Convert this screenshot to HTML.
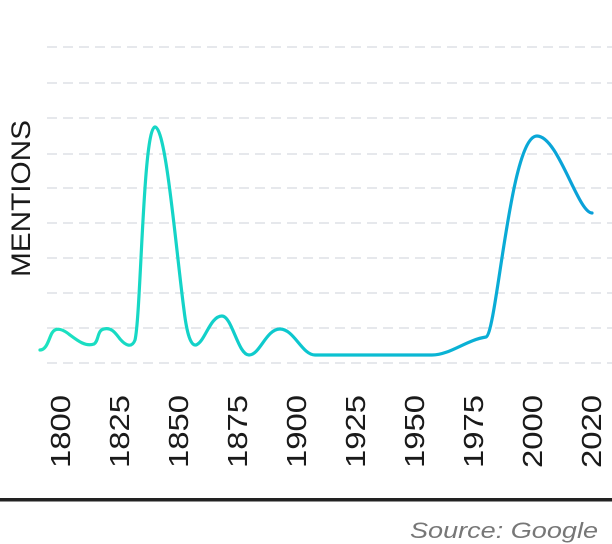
<!DOCTYPE html>
<html><head><meta charset="utf-8"><style>
html,body{margin:0;padding:0;background:#fff;}
svg{display:block;font-family:"Liberation Sans",sans-serif;}
</style></head><body>
<svg width="612" height="544" viewBox="0 0 612 544" xmlns="http://www.w3.org/2000/svg">
<defs>
<linearGradient id="g" x1="40" y1="0" x2="595" y2="0" gradientUnits="userSpaceOnUse">
<stop offset="0" stop-color="#1de3bf"/>
<stop offset="0.5" stop-color="#0bc4d0"/>
<stop offset="1" stop-color="#0a9fd9"/>
</linearGradient>
</defs>
<g stroke="#e6e8ec" stroke-width="2" stroke-dasharray="10 6">
<line x1="47" y1="47" x2="612" y2="47"/>
<line x1="47" y1="83" x2="612" y2="83"/>
<line x1="47" y1="118" x2="612" y2="118"/>
<line x1="47" y1="154" x2="612" y2="154"/>
<line x1="47" y1="188" x2="612" y2="188"/>
<line x1="47" y1="223" x2="612" y2="223"/>
<line x1="47" y1="258" x2="612" y2="258"/>
<line x1="47" y1="293" x2="612" y2="293"/>
<line x1="47" y1="328" x2="612" y2="328"/>
<line x1="47" y1="363" x2="612" y2="363"/>
</g>
<path d="M40,350 C47,350 49,338 52,333 C56,326 64,330 70,335 C78,341 86,347 94,344 C99,341 97,330 104,329 C112,327 116,334 120,339 C126,346 132,348 135,340 C141,315 143,127 155,127 C166,127 176,250 184,310 C187,335 191,346 196,345 C205,342 210,316 222,316 C232,316 238,355 249,355 C260,355 266,329 280,329 C294,329 302,355 315,355 L432,355 C450,355 466,340 486,337 C497,333 510,136 537,136 C558,136 578,213 592,213" fill="none" stroke="url(#g)" stroke-width="3.2" stroke-linecap="round" stroke-linejoin="round"/>
<text transform="translate(30,277) rotate(-90)" font-size="27" fill="#1a1a1a" textLength="157" lengthAdjust="spacingAndGlyphs">MENTIONS</text>
<g font-size="28" fill="#1a1a1a">
<text transform="translate(70,468) rotate(-90)" textLength="73" lengthAdjust="spacingAndGlyphs">1800</text>
<text transform="translate(129,468) rotate(-90)" textLength="73" lengthAdjust="spacingAndGlyphs">1825</text>
<text transform="translate(188,468) rotate(-90)" textLength="73" lengthAdjust="spacingAndGlyphs">1850</text>
<text transform="translate(247,468) rotate(-90)" textLength="73" lengthAdjust="spacingAndGlyphs">1875</text>
<text transform="translate(306,468) rotate(-90)" textLength="73" lengthAdjust="spacingAndGlyphs">1900</text>
<text transform="translate(365,468) rotate(-90)" textLength="73" lengthAdjust="spacingAndGlyphs">1925</text>
<text transform="translate(424,468) rotate(-90)" textLength="73" lengthAdjust="spacingAndGlyphs">1950</text>
<text transform="translate(483,468) rotate(-90)" textLength="73" lengthAdjust="spacingAndGlyphs">1975</text>
<text transform="translate(542,468) rotate(-90)" textLength="73" lengthAdjust="spacingAndGlyphs">2000</text>
<text transform="translate(601,468) rotate(-90)" textLength="73" lengthAdjust="spacingAndGlyphs">2020</text>
</g>
<rect x="0" y="498" width="612" height="3.5" fill="#222"/>
<text x="410" y="538" font-size="22" font-style="italic" fill="#777" textLength="188" lengthAdjust="spacingAndGlyphs">Source: Google</text>
</svg>
</body></html>
